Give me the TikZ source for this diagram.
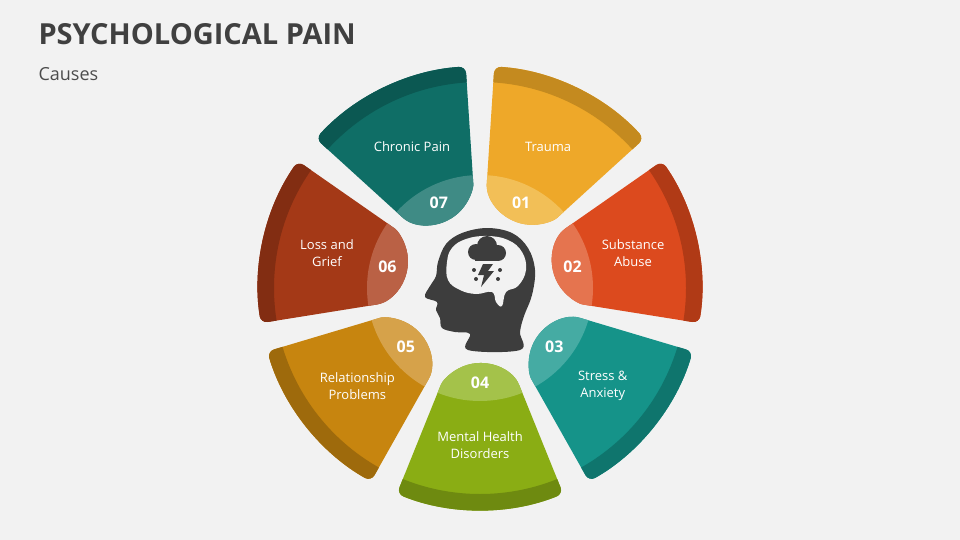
\documentclass[tikz,border=0pt]{standalone}
\usepackage{fontspec}
\setmainfont{Open Sans}
\definecolor{c1}{HTML}{EEA829}\definecolor{c1d}{HTML}{C48A1F}\definecolor{c1l}{HTML}{F2BF57}
\definecolor{c2}{HTML}{DC4A1E}\definecolor{c2d}{HTML}{B03A16}\definecolor{c2l}{HTML}{E5744F}
\definecolor{c3}{HTML}{159389}\definecolor{c3d}{HTML}{0F756D}\definecolor{c3l}{HTML}{45ABA3}
\definecolor{c4}{HTML}{8AAD14}\definecolor{c4d}{HTML}{6E8A10}\definecolor{c4l}{HTML}{A4C24A}
\definecolor{c5}{HTML}{C7850F}\definecolor{c5d}{HTML}{9E6A0C}\definecolor{c5l}{HTML}{D6A24A}
\definecolor{c6}{HTML}{A43917}\definecolor{c6d}{HTML}{822D12}\definecolor{c6l}{HTML}{BA6145}
\definecolor{c7}{HTML}{0F6E66}\definecolor{c7d}{HTML}{0B5852}\definecolor{c7l}{HTML}{3F8B85}
\definecolor{headc}{HTML}{3D3D3D}
\begin{document}
\begin{tikzpicture}[x=1pt,y=-1pt,
  lbln/.style={font=\fontsize{13}{17}\selectfont,text=white,align=center},
  num/.style={text=white,font=\fontsize{16}{18}\selectfont\bfseries}]
\fill[white!95!black] (0,0) rectangle (960,540);
\useasboundingbox (0,0) rectangle (960,540);
\node[anchor=west,font=\fontsize{29}{32}\selectfont\bfseries,text=black!75] (title) at (35,34) {PSYCHOLOGICAL PAIN};
\node[anchor=west,font=\fontsize{18}{20}\selectfont,text=black!70] (sub) at (35,74) {Causes};
\def\h{22}
\newcommand\segpath{(-\a+\h:222) arc[start angle=-\a+\h,end angle=-\a-\h,radius=222]
   -- (-\a-\h:111.3) arc[start angle=-\a-\h-90,end angle=-\a+\h-270,radius=45] -- cycle}
\newcommand\seg[7]{%
 \begin{scope}[shift={(480,288)}]
 \def\a{#1}
 \begin{scope}
 \clip[rounded corners=7] \segpath;
 \fill[#2] (0,0) circle(230);
 \fill[#4] (0,0) circle(113);
 \fill[#3,even odd rule] (0,0) circle(230) (0,0) circle(206);
 \end{scope}
 \node[num] (n#7) at (-\a:95) {#5};
 \node[lbln] (t#7) at (-\a:157) {#6};
 \end{scope}}
\seg{-90}{c4}{c4d}{c4l}{04}{Mental Health\\Disorders}{4}
\seg{-38.6}{c3}{c3d}{c3l}{03}{Stress \&\\Anxiety}{3}
\seg{12.9}{c2}{c2d}{c2l}{02}{Substance\\Abuse}{2}
\seg{64.3}{c1}{c1d}{c1l}{01}{Trauma}{1}
\seg{115.7}{c7}{c7d}{c7l}{07}{Chronic Pain}{7}
\seg{167.1}{c6}{c6d}{c6l}{06}{Loss and\\Grief}{6}
\seg{218.6}{c5}{c5d}{c5l}{05}{Relationship\\Problems}{5}
% head
\fill[headc] plot[smooth cycle,tension=0.6] coordinates {(468,350)(470,334)(455,332)(442,328)(440,318)(436,310)(437,302)(425,297)(430,286)(436,276)(438,262)(446,244)(462,233)(487,228)(512,233)(528,248)(535,270)(532,295)(524,316)(520,332)(520,350)};
\fill[white!95!black] plot[smooth cycle,tension=0.7] coordinates {(447,262)(452,248)(466,239)(487,236)(508,240)(522,252)(526,270)(518,286)(506,292)(502,306)(496,302)(492,292)(476,294)(460,290)(448,280)};
\fill[headc] (476,252) circle(8);
\fill[headc] (487,246) circle(10);
\fill[headc] (498,253) circle(8);
\fill[headc] (475,252) rectangle (499,261);
\fill[headc] (483,264)--(493,264)--(488,271)--(494,271)--(481,287)--(484,275)--(478,275)--cycle;
\foreach \p in {(474,270),(500,270),(476,279),(498,279)} \fill[headc] \p circle(2);
\end{tikzpicture}
\end{document}
